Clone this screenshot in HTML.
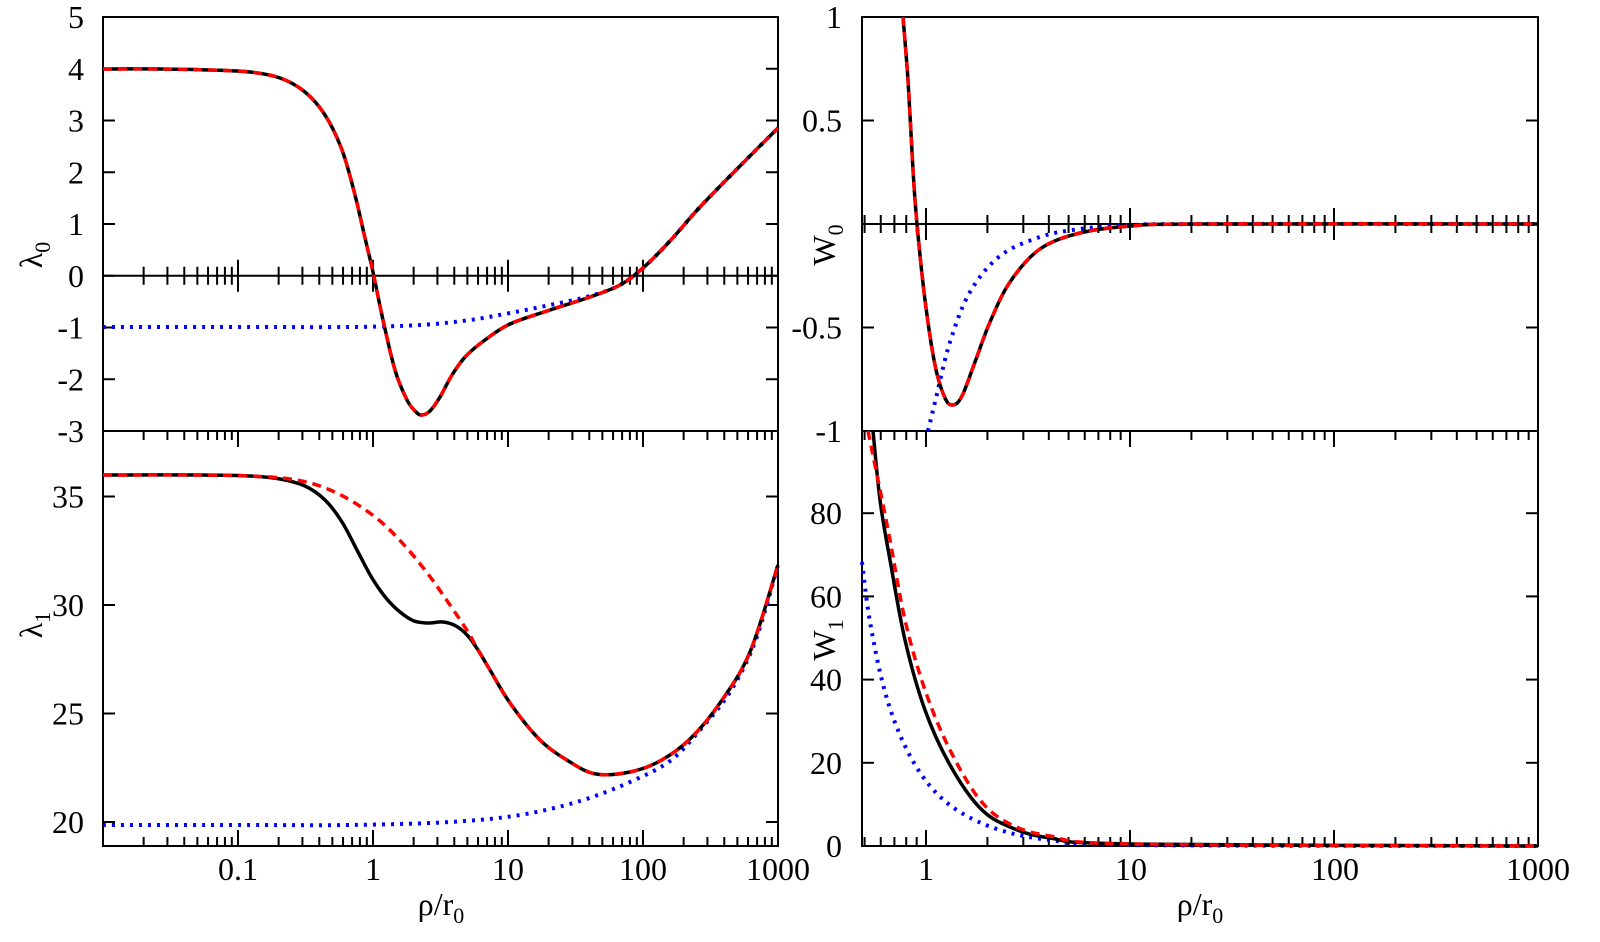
<!DOCTYPE html>
<html><head><meta charset="utf-8"><style>
html,body{margin:0;padding:0;background:#fff;}
svg text{font-family:"Liberation Serif","DejaVu Serif",serif;fill:#000;}
</style></head><body>
<svg id="s" width="1600" height="937" xmlns="http://www.w3.org/2000/svg"></svg>
<script>
const s=document.getElementById('s');let h='';
function cr(p){let d='M'+p[0][0]+','+p[0][1];for(let i=0;i<p.length-1;i++){const p0=p[i-1]||p[i],p1=p[i],p2=p[i+1],p3=p[i+2]||p2;
const c1=[p1[0]+(p2[0]-p0[0])/6,p1[1]+(p2[1]-p0[1])/6],c2=[p2[0]-(p3[0]-p1[0])/6,p2[1]-(p3[1]-p1[1])/6];
d+=`C${c1[0].toFixed(1)},${c1[1].toFixed(1)} ${c2[0].toFixed(1)},${c2[1].toFixed(1)} ${p2[0]},${p2[1]}`;}return d;}
function line(x1,y1,x2,y2,w){h+=`<line x1="${x1}" y1="${y1}" x2="${x2}" y2="${y2}" stroke="#000" stroke-width="${w||2}"/>`;}
function txt(x,y,t,a,sz){h+=`<text x="${x}" y="${y}" font-size="${sz||32}" text-anchor="${a||'middle'}">${t}</text>`;}
function curve(p,type){
 if(type=='black')h+=`<path d="${cr(p)}" fill="none" stroke="#000" stroke-width="3.5"/>`;
 if(type=='red')h+=`<path d="${cr(p)}" fill="none" stroke="#f00" stroke-width="3.5" stroke-dasharray="9,6"/>`;
 if(type=='blue')h+=`<path d="${cr(p)}" fill="none" stroke="#00f" stroke-width="4" stroke-dasharray="3,6"/>`;
}
function frame(x1,y1,x2,y2){h+=`<rect x="${x1}" y="${y1}" width="${x2-x1}" height="${y2-y1}" fill="none" stroke="#000" stroke-width="2"/>`;}
function xticks(x0,dec,lo,hi,y,mode,x1,x2){
 for(let e=lo;e<=hi;e++)for(let m=1;m<10;m++){const v=e+Math.log10(m);const x=x0+(v)*dec;if(x<x1-0.5||x>x2+0.5)continue;
  const L=m==1?16:9;
  if(mode=='both'){line(x,y-L,x,y+L,2);}else if(mode=='up'){line(x,y,x,y-L,2);}else{line(x,y,x,y+L,2);}}
}
const LX0=373,LD=135;
frame(103,17,778,846);line(103,431,778,431);line(103,275.75,778,275.75);
xticks(LX0,LD,-2,3,275.75,'both',103,778);
xticks(LX0,LD,-2,3,431,'down',103,778);
xticks(LX0,LD,-2,3,846,'up',103,778);
for(let v=-3;v<=5;v++){const y=275.75-v*51.75;line(103,y,115,y);line(778,y,766,y);txt(84,y+11,v==0?'0':(v<0?'-'+(-v):v),'end');}
for(let v of [20,25,30,35]){const y=822-(v-20)*21.7;line(103,y,115,y);line(778,y,766,y);txt(84,y+11,v,'end');}
[['0.1',238],['1',373],['10',508],['100',643],['1000',778]].forEach(a=>txt(a[1],880,a[0]));
txt(441,915,'ρ/r<tspan font-size="22" dy="8">0</tspan>');
h+=`<text font-size="32" transform="translate(42,255) rotate(-90)" text-anchor="middle">λ<tspan font-size="22" dy="8">0</tspan></text>`;
h+=`<text font-size="32" transform="translate(42,625) rotate(-90)" text-anchor="middle">λ<tspan font-size="22" dy="8">1</tspan></text>`;
const RX0=926,RD=204;
frame(862,17,1538,846);line(862,431,1538,431);line(862,224,1538,224);
xticks(RX0,RD,-1,3,224,'both',862,1538);
xticks(RX0,RD,-1,3,431,'down',862,1538);
xticks(RX0,RD,-1,3,846,'up',862,1538);
[[1,'1'],[0.5,'0.5'],[-0.5,'-0.5'],[-1,'-1']].forEach(a=>{const y=224-a[0]*207;line(862,y,874,y);line(1538,y,1526,y);txt(842,y+11,a[1],'end');});
for(let v=0;v<=80;v+=20){const y=846-v*4.16;line(862,y,874,y);line(1538,y,1526,y);txt(842,y+11,v,'end');}
[['1',926],['10',1131],['100',1335],['1000',1538]].forEach(a=>txt(a[1],880,a[0]));
txt(1200,915,'ρ/r<tspan font-size="22" dy="8">0</tspan>');
h+=`<text font-size="32" transform="translate(835,245) rotate(-90)" text-anchor="middle">W<tspan font-size="22" dy="8">0</tspan></text>`;
h+=`<text font-size="32" transform="translate(835,640) rotate(-90)" text-anchor="middle">W<tspan font-size="22" dy="8">1</tspan></text>`;
const l0=[[103,69],[160,69],[210,70],[250,72],[280,78],[305,92],[325,115],[342,150],[355,195],[365,238],[373,272],[383,320],[395,370],[407,400],[416,412],[422,415],[430,411],[440,397],[452,375],[466,356],[485,340],[510,324],[550,310],[590,297],[620,285],[643,268],[670,241],[700,207],[740,166],[778,128]];
curve([[103,327],[250,327],[350,327],[420,325],[470,320],[510,313],[550,305],[590,296],[620,285],[643,268],[670,241],[700,207],[740,166],[778,128]],'blue');
curve(l0,'black');curve(l0,'red');
const l1tail=[[490,670],[510,703],[540,740],[570,762],[596,774],[630,772],[660,761],[690,739],[720,703],[750,652],[778,565]];
curve([[103,825],[250,825],[350,825],[450,822],[520,815],[580,801],[630,782],[670,761],[700,730],[730,692],[755,642],[778,565]],'blue');
curve([[103,475],[200,475],[250,476],[280,479],[305,486],[325,500],[342,522],[358,552],[372,578],[386,598],[400,612],[414,621],[428,623],[443,622],[456,626],[468,636],[478,650]].concat(l1tail),'black');
curve([[103,475],[200,475],[250,476],[290,479],[320,486],[350,500],[380,521],[405,546],[428,574],[450,605],[468,632],[478,650]].concat(l1tail),'red');
const w0=[[903,17],[908,80],[913,170],[917,224],[925,300],[935,365],[945,398],[953,405],[962,396],[975,362],[990,322],[1010,282],[1040,249],[1080,233],[1131,226],[1200,224],[1538,224]];
curve([[928,431],[936,398],[950,342],[970,292],[1000,256],[1040,237],[1080,229],[1131,225],[1200,224],[1538,224]],'blue');
curve(w0,'black');curve(w0,'red');
curve([[862,562],[870,622],[885,692],[905,746],[930,786],[960,812],[1000,830],[1050,840],[1131,845],[1538,846]],'blue');
curve([[873,431],[880,500],[890,560],[905,640],[925,710],[950,765],[980,808],[1010,827],[1050,838],[1131,844],[1538,846]],'black');
curve([[868,431],[878,480],[890,540],[905,620],[925,690],[950,750],[980,800],[1010,824],[1050,836],[1131,844],[1538,846]],'red');
s.innerHTML=h;
</script>
</body></html>
